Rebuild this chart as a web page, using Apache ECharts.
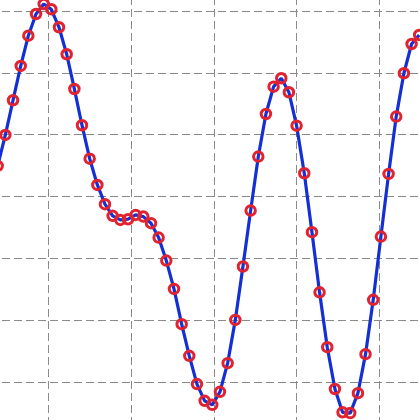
<!DOCTYPE html>
<html>
<head>
<meta charset="utf-8">
<script src="https://cdn.jsdelivr.net/npm/echarts@6/dist/echarts.min.js"></script>
<style>
html,body{margin:0;padding:0;background:#fff;overflow:hidden;width:420px;height:420px;position:relative}
#c{position:absolute;left:-34px;top:-51px;width:496px;height:495px}
</style>
</head>
<body>
<div id="c"></div>
<script>
const xValues = [0.383,0.476,0.569,0.662,0.754,0.847,0.940,1.032,1.125,1.218,1.311,1.403,1.496,1.589,1.681,1.774,1.867,1.960,2.052,2.145,2.238,2.330,2.423,2.516,2.609,2.701,2.794,2.887,2.979,3.072,3.165,3.258,3.350,3.443,3.536,3.628,3.721,3.814,3.906,3.999,4.092,4.185,4.277,4.370,4.463,4.555,4.648,4.741,4.833,4.926,5.019,5.112,5.204,5.297,5.390,5.482];
const yValues = [4.494,4.995,5.556,6.110,6.599,6.950,7.111,7.026,6.735,6.299,5.738,5.152,4.612,4.187,3.876,3.687,3.622,3.633,3.703,3.675,3.569,3.336,2.964,2.507,1.937,1.425,0.968,0.698,0.633,0.843,1.307,2.006,2.868,3.772,4.645,5.334,5.775,5.911,5.685,5.145,4.376,3.423,2.451,1.565,0.889,0.512,0.499,0.822,1.452,2.330,3.352,4.365,5.291,5.992,6.465,6.611];

const points = xValues.map((x, i) => [x, yValues[i]]);
const chart = echarts.init(document.getElementById('c'), null, {renderer: 'canvas'});
const splitStyle = {show: true, lineStyle: {color: '#8a8a8a', width: 1, type: [8, 4]}};
chart.setOption({
  animation: false,
  backgroundColor: '#ffffff',
  grid: {left: 0, right: 0, top: 0, bottom: 0, containLabel: false},
  xAxis: {type: 'value', min: 0, max: 6, interval: 1,
    axisLine: {show: false}, axisTick: {show: false}, axisLabel: {show: false},
    splitLine: splitStyle},
  yAxis: {type: 'value', min: 0, max: 8, interval: 1,
    axisLine: {show: false}, axisTick: {show: false}, axisLabel: {show: false},
    splitLine: splitStyle},
  series: [{
    type: 'line',
    data: points,
    smooth: false,
    symbol: 'circle',
    symbolSize: 9.5,
    showAllSymbol: true,
    lineStyle: {color: '#1430d4', width: 3.2},
    itemStyle: {color: 'rgba(255,255,255,0)', borderColor: '#e0232f', borderWidth: 3}
  }]
});
</script>
</body>
</html>
